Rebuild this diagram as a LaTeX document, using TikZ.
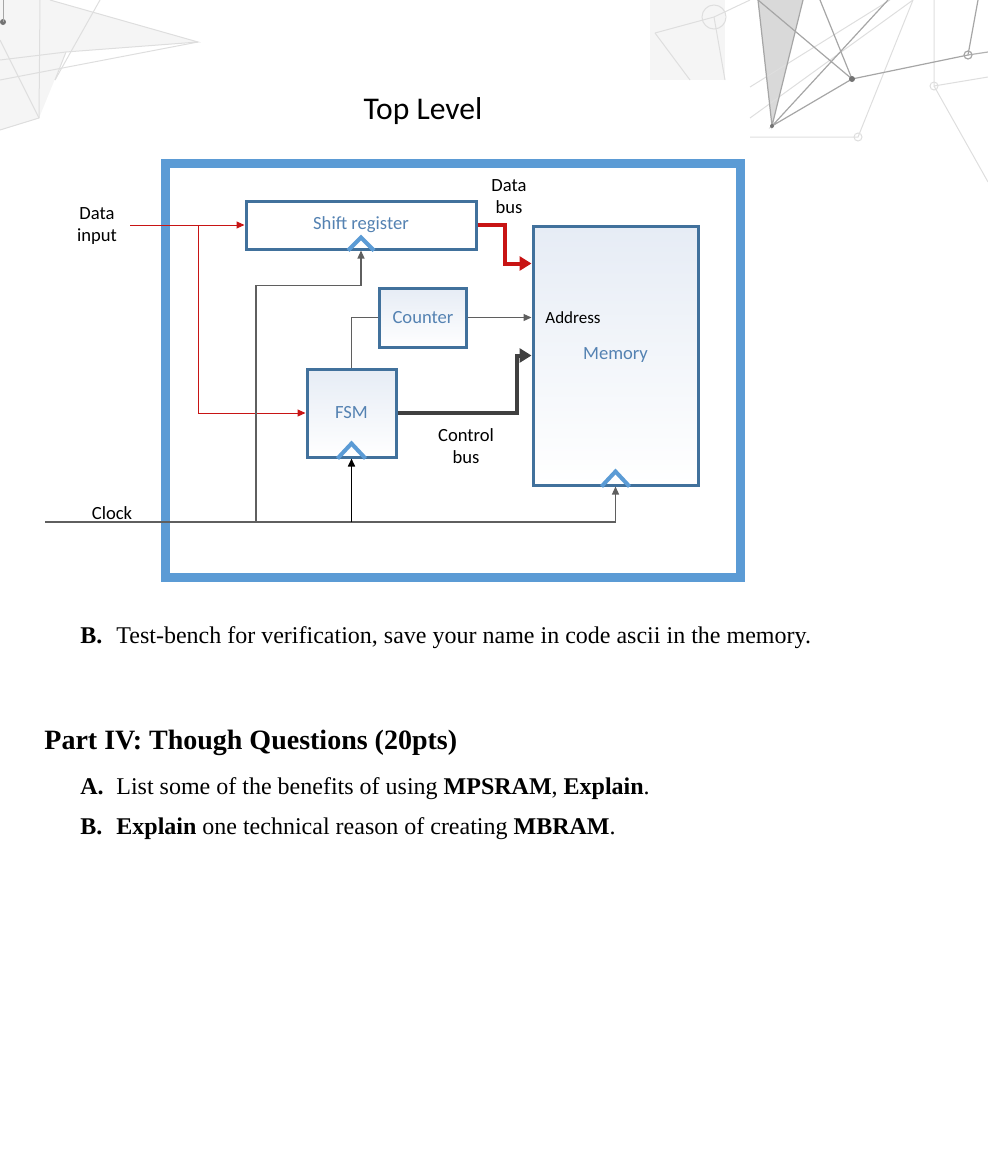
\documentclass[tikz,border=0pt]{standalone}
\usepackage{fontspec}
\setmainfont{Liberation Serif}
\newfontfamily\diagfont{Carlito}
\usetikzlibrary{positioning,arrows.meta}

\definecolor{framebl}{RGB}{91,155,213}
\definecolor{boxedge}{RGB}{65,113,156}
\definecolor{boxtxt}{RGB}{84,130,178}
\definecolor{boxtop}{RGB}{230,236,245}
\definecolor{sigred}{RGB}{200,20,20}
\definecolor{busgray}{RGB}{64,64,64}
\definecolor{wiregray}{RGB}{95,95,95}
\definecolor{bgline}{RGB}{222,222,222}
\definecolor{bgfill}{RGB}{245,245,245}

\begin{document}
\begin{tikzpicture}[x=0.5pt,y=-0.5pt,
  blk/.style={draw=boxedge,line width=1.5pt,top color=boxtop,bottom color=white,
    font=\diagfont\fontsize{9.3}{11}\selectfont,text=boxtxt,inner sep=0pt},
  lbl/.style={font=\diagfont\fontsize{9.3}{11}\selectfont,align=center,inner sep=0pt},
  clk/.style={draw=framebl,line width=2pt},
  redline/.style={draw=sigred,line width=0.5pt,-{Triangle[length=4pt,width=3.5pt]}},
  gline/.style={draw=wiregray,line width=0.6pt},
  dbus/.style={draw=sigred,line width=2pt,-{Triangle[length=6pt,width=7pt]}},
  cbus/.style={draw=busgray,line width=2pt,-{Triangle[length=6pt,width=7pt]}},
  doc/.style={font=\fontsize{12}{14}\selectfont,inner sep=0pt,anchor=base west},
  bg/.style={draw=bgline,line width=0.5pt}]
\useasboundingbox (0,0) rectangle (988,1167);

\fill[bgfill] (0,0) -- (50,0) -- (198,42) -- (66,52) -- (39,118) -- (0,130) -- cycle;
\fill[bgfill] (650,0) -- (725,0) -- (725,80) -- (650,80) -- cycle;
\fill[black!15] (758,0) -- (803,0) -- (772,126) -- cycle;
\draw[bg] (50,0) -- (198,42) -- (66,52) -- (0,60);
\draw[bg] (0,80) -- (198,42);
\draw[bg] (40,0) -- (39,118) -- (0,130);
\draw[bg] (0,40) -- (39,118);
\draw[bg] (100,0) -- (55,80);
\draw[bg] (66,52) -- (55,80);
\draw[bg] (655,33) -- (714,17) -- (750,0);
\draw[bg] (655,33) -- (690,80);
\draw[bg] (714,17) -- (725,80);
\draw[bg] (714,17) circle (12);
\draw[bg] (750,118) -- (913,0);
\draw[bg] (750,87) -- (890,0);
\draw[bg] (750,137) -- (858,137) -- (913,0);
\draw[bg] (858,137) circle (4);
\draw[bg] (934,0) -- (934,86) -- (988,77);
\draw[bg] (934,86) circle (4) (934,86) -- (988,182);
\draw[black!35,line width=0.6pt] (758,0) -- (852,79) -- (772,126) -- (888,0);
\draw[black!35,line width=0.6pt] (820,0) -- (852,79) -- (968,55) -- (978,0);
\draw[black!35,line width=0.6pt] (758,0) -- (772,126) -- (803,0);
\draw[black!30,line width=0.6pt] (968,55) -- (988,52);
\draw[black!35,line width=0.6pt] (968,55) circle (4);
\fill[black!55] (852,79) circle (3) (772,126) circle (2) (3,22) circle (3);
\draw[black!35] (3,0) -- (3,22);

\node[font=\diagfont\fontsize{15.8}{18}\selectfont,inner sep=0pt] (title) at (423,111) {Top Level};
\draw[framebl,line width=4.5pt] (165,163.5) rectangle (740,577);

\node[blk,fill=white,top color=white,minimum width=115pt,minimum height=24pt] (sreg) at (361,225) {Shift register};
\node[blk,minimum width=43.5pt,minimum height=29.5pt] (cnt) at (423,317.5) {Counter};
\node[blk,minimum width=44.5pt,minimum height=44pt] (fsm) at (351.5,413) {FSM};
\node[blk,minimum width=82.5pt,minimum height=129.5pt] (mem) at (615.5,355.5) {Memory};

\draw[clk] ([xshift=-6.5pt]sreg.south) -- ([yshift=6.5pt]sreg.south) -- ([xshift=6.5pt]sreg.south);
\draw[clk] ([xshift=-7pt]fsm.south) -- ([yshift=7.5pt]fsm.south) -- ([xshift=7pt]fsm.south);
\draw[clk] ([xshift=-7pt]mem.south) -- ([yshift=7.5pt]mem.south) -- ([xshift=7pt]mem.south);

\node[lbl] (din) at (97,226) {Data\\input};
\node[lbl] (clock) at (112,513) {Clock};
\node[lbl] (dbuslbl) at (509,197) {Data\\bus};
\node[lbl] (cbuslbl) at (466,446) {Control\\bus};
\node[lbl,font=\diagfont\fontsize{8.5}{10}\selectfont,anchor=west] (addr) at (545,317.5) {Address};

\coordinate (dinend) at (130,225);
\coordinate (dsplit) at (198,225);
\coordinate (clkend) at (45,522);
\coordinate (csplit) at (256,522);

\draw[redline] (dinend) -- (sreg.west);
\draw[redline] (dsplit) |- (fsm.west);
\draw[gline,-{Triangle[length=4pt,width=3.5pt]}] (clkend) -| (mem.south);
\draw[gline,-{Triangle[length=4pt,width=3.5pt]}] (csplit) |- ([yshift=-17.5pt]sreg.south) -- (sreg.south);
\draw[black,line width=0.8pt,-{Triangle[length=4pt,width=3.5pt]}] (fsm.south |- clkend) -- (fsm.south);
\draw[gline] (fsm.north) |- (cnt.west);
\draw[gline,-{Triangle[length=4pt,width=3.5pt]}] (cnt.east) -- (mem.west |- cnt.east);
\draw[cbus] (fsm.east) -- ++(119,0) |- (mem.west);
\draw[dbus] (sreg.east) -- ++(27,0) |- ([yshift=-19.5pt]mem.north west);

\node[doc] (qb) at (80,643) {\makebox[18pt][l]{\textbf{B.}}Test-bench for verification, save your name in code ascii in the memory.};
\node[doc,font=\bfseries\fontsize{14}{16}\selectfont] (part) at (44,749) {Part IV: Though Questions (20pts)};
\node[doc] (qa1) at (80,794) {\makebox[18pt][l]{\textbf{A.}}List some of the benefits of using \textbf{MPSRAM}, \textbf{Explain}.};
\node[doc] (qb1) at (80,834) {\makebox[18pt][l]{\textbf{B.}}\textbf{Explain} one technical reason of creating \textbf{MBRAM}.};
\end{tikzpicture}
\end{document}
